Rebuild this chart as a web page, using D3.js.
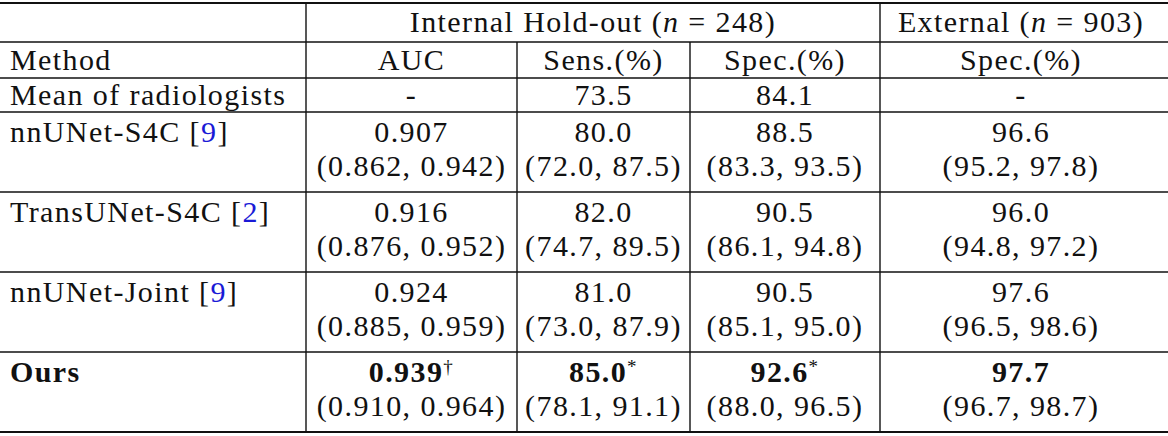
<!DOCTYPE html>
<meta charset="utf-8">
<title>Results table</title>
<style>
body { margin: 0; background: white; }
svg text { font-family: 'Liberation Serif', 'DejaVu Serif', serif; font-size: 30px; letter-spacing: 1.4px; fill: #111; }
.rule { stroke: #111; }
</style>
<script src="https://cdn.jsdelivr.net/npm/d3@7"></script>
<svg id="table" width="1168" height="436"></svg>
<script>(function() {
  var columns = ["Method", "AUC", "Sens.(%)", "Spec.(%)", "Spec.(%)"];
  var methods = ["Mean of radiologists", "nnUNet-S4C", "TransUNet-S4C", "nnUNet-Joint", "Ours"];
  var cites = [null, "9", "2", "9", null];
  var auc = ["-", "0.907", "0.916", "0.924", "0.939"];
  var aucCI = [null, "(0.862, 0.942)", "(0.876, 0.952)", "(0.885, 0.959)", "(0.910, 0.964)"];
  var sens = ["73.5", "80.0", "82.0", "81.0", "85.0"];
  var sensCI = [null, "(72.0, 87.5)", "(74.7, 89.5)", "(73.0, 87.9)", "(78.1, 91.1)"];
  var spec = ["84.1", "88.5", "90.5", "90.5", "92.6"];
  var specCI = [null, "(83.3, 93.5)", "(86.1, 94.8)", "(85.1, 95.0)", "(88.0, 96.5)"];
  var extSpec = ["-", "96.6", "96.0", "97.6", "97.7"];
  var extSpecCI = [null, "(95.2, 97.8)", "(94.8, 97.2)", "(96.5, 98.6)", "(96.7, 98.7)"];
  var marks = [[null, null, null, null], [null, null, null, null], [null, null, null, null],
               [null, null, null, null], ["\u2020", "*", "*", null]];

  var svg = d3.select("#table");
  var colEdges = [0, 306, 517, 690, 880, 1162];
  var rowTops = [3, 42, 78, 112, 192, 272, 352, 432];

  // horizontal rules
  rowTops.forEach(function(y, i) {
    var last = i == 0 || i == rowTops.length - 1;
    svg.append("line").attr("class", "rule")
      .attr("x1", 0).attr("x2", 1168).attr("y1", y).attr("y2", y)
      .attr("stroke-width", last ? 2 : 1.4);
  });
  // vertical rules
  colEdges.slice(1, 5).forEach(function(x, i) {
    var top = (x == 306 || x == 880) ? 3 : 42;
    svg.append("line").attr("class", "rule")
      .attr("x1", x).attr("x2", x).attr("y1", top).attr("y2", 432)
      .attr("stroke-width", 1.4);
  });

  function mid(i) { return (colEdges[i] + colEdges[i + 1]) / 2; }

  // group header
  var h1 = svg.append("text").attr("x", (306 + 880) / 2).attr("y", 32).attr("text-anchor", "middle");
  h1.append("tspan").text("Internal Hold-out (");
  h1.append("tspan").attr("font-style", "italic").text("n");
  h1.append("tspan").text(" = 248)");
  var h2 = svg.append("text").attr("x", (880 + 1162) / 2).attr("y", 32).attr("text-anchor", "middle");
  h2.append("tspan").text("External (");
  h2.append("tspan").attr("font-style", "italic").text("n");
  h2.append("tspan").text(" = 903)");

  columns.forEach(function(c, i) {
    svg.append("text").attr("x", i == 0 ? 10 : mid(i)).attr("y", 70)
      .attr("text-anchor", i == 0 ? "start" : "middle").text(c);
  });

  var valueCols = [auc, sens, spec, extSpec];
  var ciCols = [aucCI, sensCI, specCI, extSpecCI];

  methods.forEach(function(m, r) {
    var y0 = r == 0 ? 105 : rowTops[r + 2] + 30;
    var bold = m == "Ours";
    var t = svg.append("text").attr("x", 10).attr("y", y0)
      .attr("font-weight", bold ? "bold" : null).text(m);
    if (cites[r]) {
      t.append("tspan").text(" [");
      t.append("tspan").attr("fill", "#1a1ad6").text(cites[r]);
      t.append("tspan").text("]");
    }
    valueCols.forEach(function(col, c) {
      var v = svg.append("text").attr("x", mid(c + 1)).attr("y", y0)
        .attr("text-anchor", "middle").attr("font-weight", bold ? "bold" : null);
      v.append("tspan").text(col[r]);
      if (marks[r][c]) {
        v.append("tspan").attr("dy", -9).attr("font-size", 19).attr("font-weight", "normal").text(marks[r][c]);
      }
      if (ciCols[c][r]) {
        svg.append("text").attr("x", mid(c + 1)).attr("y", y0 + 34)
          .attr("text-anchor", "middle").text(ciCols[c][r]);
      }
    });
  });
})()</script>
